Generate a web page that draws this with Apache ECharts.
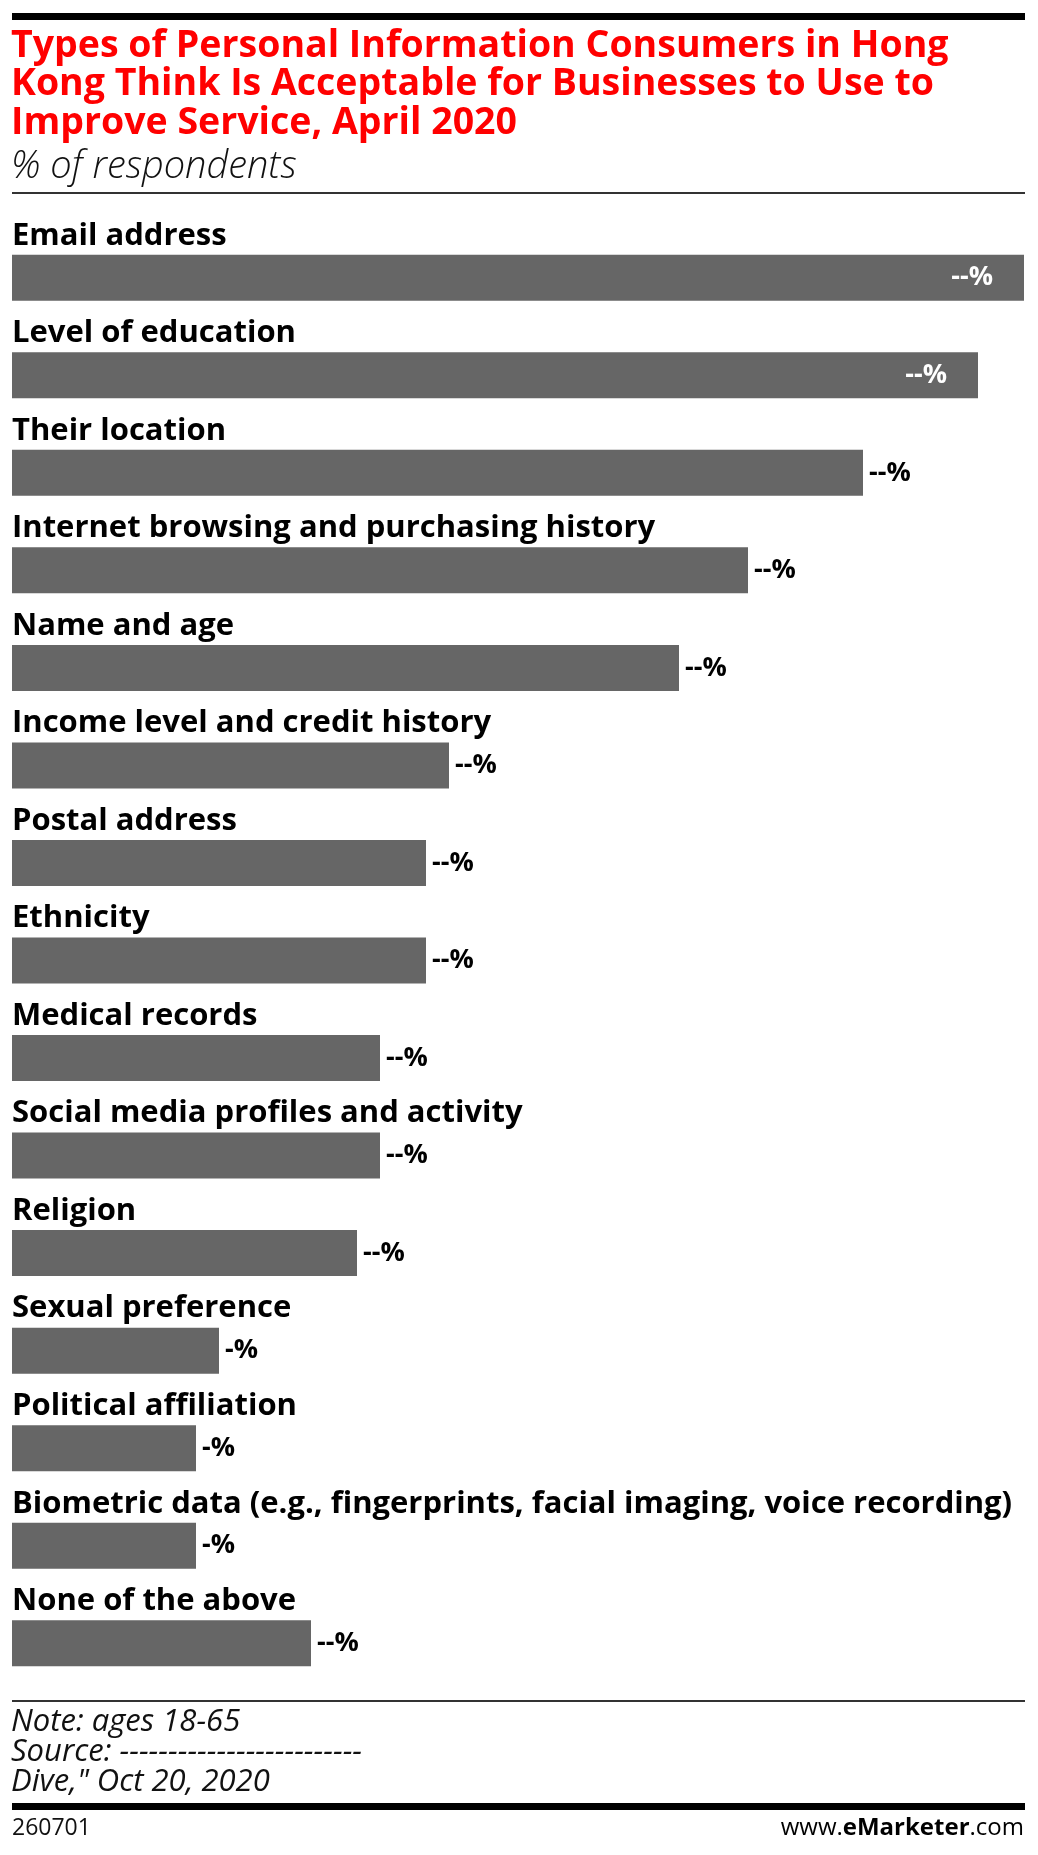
<!DOCTYPE html>
<html>
<head>
<meta charset="utf-8">
<script src="https://cdn.jsdelivr.net/npm/echarts@6/dist/echarts.min.js"></script>
<style>
  html, body { margin: 0; padding: 0; background: #fff; }
  #chart { width: 1038px; height: 1855px; }
</style>
</head>
<body>
<div id="chart"></div>
<script>
const categories = [
  'Email address',
  'Level of education',
  'Their location',
  'Internet browsing and purchasing history',
  'Name and age',
  'Income level and credit history',
  'Postal address',
  'Ethnicity',
  'Medical records',
  'Social media profiles and activity',
  'Religion',
  'Sexual preference',
  'Political affiliation',
  'Biometric data (e.g., fingerprints, facial imaging, voice recording)',
  'None of the above'
];
const values = [44, 42, 37, 32, 29, 19, 18, 18, 16, 16, 15, 9, 8, 8, 13];
const titleLines = [
  'Types of Personal Information Consumers in Hong',
  'Kong Think Is Acceptable for Businesses to Use to',
  'Improve Service, April 2020'
];
const subtitle = '% of respondents';
const noteLines = [
  'Note: ages 18-65',
  'Source: -------------------------',
  'Dive," Oct 20, 2020'
];
const chartId = '260701';

const FONT = '"Open Sans", "Liberation Sans", sans-serif';
const RED = '#ff0000';
const BAR = '#666666';

const chart = echarts.init(document.getElementById('chart'), null, { renderer: 'canvas' });

const maskLabel = v => '-'.repeat(String(v).length) + '%';

const barData = values.map(v => v >= 40
  ? { value: v, label: { position: 'insideRight', distance: 31, color: '#ffffff' } }
  : v);

const graphics = [];
// top thick bar
graphics.push({ type: 'rect', shape: { x: 12, y: 13, width: 1013, height: 7 }, style: { fill: '#000' } });
// title
const titleY = [46, 84.5, 123.5];
titleLines.forEach((t, i) => {
  graphics.push({ type: 'text', x: 11, y: titleY[i], style: {
    text: t, fill: RED, font: 'bold 37.5px ' + FONT, verticalAlign: 'middle', align: 'left'
  }});
});
graphics.push({ type: 'text', x: 11, y: 167, style: {
  text: subtitle, fill: '#111', font: 'italic 300 38px ' + FONT, verticalAlign: 'middle', align: 'left'
}});
// line under header
graphics.push({ type: 'rect', shape: { x: 12, y: 192, width: 1013, height: 2 }, style: { fill: '#333' } });
// line above notes
graphics.push({ type: 'rect', shape: { x: 12, y: 1700, width: 1013, height: 2 }, style: { fill: '#333' } });
const noteY = [1722, 1752, 1782];
noteLines.forEach((t, i) => {
  graphics.push({ type: 'text', x: 11, y: noteY[i], style: {
    text: t, fill: '#111', font: 'italic 31px ' + FONT, verticalAlign: 'middle', align: 'left'
  }});
});
// bottom thick bar
graphics.push({ type: 'rect', shape: { x: 12, y: 1803, width: 1013, height: 7 }, style: { fill: '#000' } });
graphics.push({ type: 'text', x: 12, y: 1828.5, style: {
  text: chartId, fill: '#111', font: '23px ' + FONT, verticalAlign: 'middle', align: 'left'
}});
graphics.push({ type: 'text', x: 1024, y: 1828.5, style: {
  text: '{a|www.}{b|e}{c|Marketer}{a|.com}', align: 'right', verticalAlign: 'middle',
  rich: {
    a: { fontFamily: FONT, fontSize: 24, color: '#111' },
    b: { fontFamily: FONT, fontSize: 24, fontWeight: 'bold', color: RED },
    c: { fontFamily: FONT, fontSize: 24, fontWeight: 'bold', color: '#111' }
  }
}});

const option = {
  animation: false,
  backgroundColor: '#fff',
  grid: { left: 12, right: 14, top: 229, height: 1463, containLabel: false },
  xAxis: {
    type: 'value', min: 0, max: 44, show: false
  },
  yAxis: {
    type: 'category', data: categories, inverse: true,
    axisLine: { show: false }, axisTick: { show: false }, splitLine: { show: false },
    axisLabel: {
      inside: true, margin: 0, interval: 0, align: 'left', verticalAlign: 'middle',
      formatter: v => '{n|' + v + '}\n{s| }',
      rich: {
        n: { color: '#000', fontFamily: FONT, fontWeight: 'bold', fontSize: 31, lineHeight: 36 },
        s: { fontSize: 10, lineHeight: 84 }
      }
    }
  },
  series: [{
    type: 'bar', data: barData, barWidth: 46,
    itemStyle: { color: BAR },
    label: {
      show: true, position: 'right', distance: 6, color: '#000',
      fontFamily: FONT, fontWeight: 'bold', fontSize: 27,
      formatter: p => maskLabel(p.value)
    },
    silent: true
  }],
  graphic: graphics
};
chart.setOption(option);
</script>
</body>
</html>
